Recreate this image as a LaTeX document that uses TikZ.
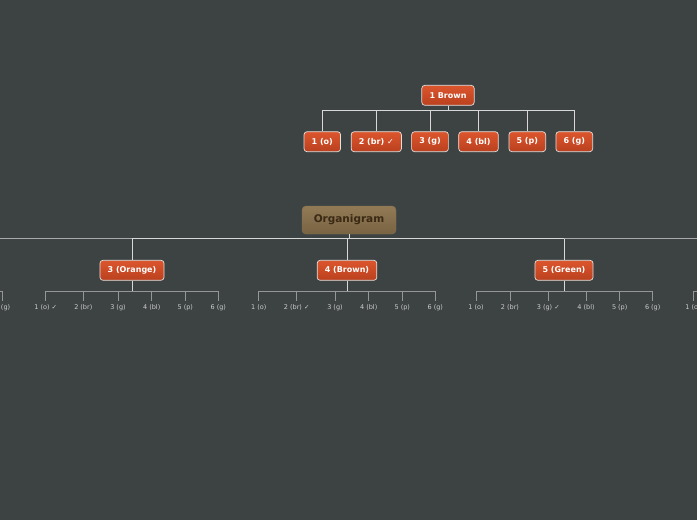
\documentclass[tikz,border=0pt]{standalone}
\usepackage{fontspec}
\setmainfont{DejaVu Sans}
\definecolor{bg}{RGB}{61,66,67}
\definecolor{boxtop}{RGB}{220,86,45}
\definecolor{boxbot}{RGB}{186,64,30}
\definecolor{boxborder}{RGB}{225,225,225}
\definecolor{roottop}{RGB}{146,122,85}
\definecolor{rootbot}{RGB}{120,99,66}
\definecolor{roottext}{RGB}{58,41,20}
\definecolor{mainline}{RGB}{216,216,216}
\definecolor{sideline}{RGB}{170,170,170}
\definecolor{leafline}{RGB}{150,150,150}
\definecolor{leaftext}{RGB}{205,205,205}
\begin{document}
\begin{tikzpicture}[x=1pt,y=-1pt,
  box/.style={draw=boxborder, line width=0.7pt, rounded corners=3pt,
    top color=boxtop, bottom color=boxbot, text=white,
    font=\bfseries\fontsize{8}{9}\selectfont, inner xsep=7.7pt, inner ysep=0pt,
    minimum height=20pt},
  rootbox/.style={draw=rootbot!90!white, line width=0.4pt, rounded corners=4pt,
    top color=roottop, bottom color=rootbot, text=roottext,
    font=\bfseries\fontsize{10.5}{12}\selectfont, minimum width=94pt,
    minimum height=28pt, inner sep=0pt},
  leaf/.style={text=leaftext, font=\fontsize{6.5}{7}\selectfont, anchor=north,
    inner xsep=1pt, inner ysep=3.8pt},
  mline/.style={draw=mainline, line width=1pt},
  sline/.style={draw=sideline, line width=1pt},
  lline/.style={draw=leafline, line width=0.8pt}]
\fill[bg] (0,0) rectangle (697,520);
\useasboundingbox (0,0) rectangle (697,520);
\clip (0,0) rectangle (697,520);

% ---------- top group ----------
\node[box] (b1) at (448,95.3) {1 Brown};
\coordinate (t0) at (448,110);
\foreach \x/\t [count=\i] in {322.3/1 (o),376.3/2 (br) ✓,430/3 (g),478.5/4 (bl),527.3/5 (p),574.3/6 (g)}{
  \node[box] (c\i) at (\x,141.7) {\t};
  \coordinate (tc\i) at (\x,110);
}
\draw[mline] (b1.south) -- (t0);
\draw[mline] (tc1) -- (tc6);
\foreach \i in {1,...,6}{ \draw[mline] (tc\i) -- (c\i.north); }

% ---------- root ----------
\node[rootbox] (root) at (349,220) {Organigram};
\coordinate (m0) at (349,238.5);
\coordinate (mL) at (-20,238.5);
\coordinate (mR) at (720,238.5);
\coordinate (m3) at (132,238.5);
\coordinate (m4) at (347,238.5);
\coordinate (m5) at (564,238.5);
\draw[mline] (root.south) -- (m0);
\draw[sline] (mL) -- (m3);
\draw[mline] (m3) -- (m5);
\draw[sline] (m5) -- (mR);

\node[box] (o3) at (132,270.3) {3 (Orange)};
\node[box] (o4) at (347,270.3) {4 (Brown)};
\node[box] (o5) at (564,270.3) {5 (Green)};
\draw[mline] (m3) -- (o3.north);
\draw[mline] (m4) -- (o4.north);
\draw[mline] (m5) -- (o5.north);

% ---------- leaf groups ----------
\foreach \g/\bx/\lst in {
  3/132/{45.7/1 (o) ✓,83.3/2 (br),118/3 (g),151.7/4 (bl),185.3/5 (p),218.3/6 (g)},
  4/347/{258.7/1 (o),296.7/2 (br) ✓,335/3 (g),368.7/4 (bl),402.3/5 (p),435.3/6 (g)},
  5/564/{476/1 (o),510/2 (br),548.3/3 (g) ✓,586/4 (bl),619.7/5 (p),652.7/6 (g)}}{
  \coordinate (h\g) at (\bx,291);
  \draw[mline] (o\g.south) -- (h\g);
  \foreach \x/\t [count=\i] in \lst {
    \node[leaf] (l\g\i) at (\x,301) {\t};
    \coordinate (hb\g\i) at (\x,291);
    \draw[lline] (hb\g\i) -- (l\g\i.north);
  }
  \draw[lline] (hb\g1) -- (hb\g6);
}

% ---------- partial groups at the edges ----------
\node[leaf] (lL6) at (2.5,301) {6 (g)};
\coordinate (hL6) at (2.5,291);
\coordinate (hLend) at (-30,291);
\draw[lline] (hLend) -- (hL6) -- (lL6.north);
\node[leaf] (lR1) at (693,301) {1 (o)};
\coordinate (hR1) at (693,291);
\coordinate (hRend) at (730,291);
\draw[lline] (hRend) -- (hR1) -- (lR1.north);
\end{tikzpicture}
\end{document}
